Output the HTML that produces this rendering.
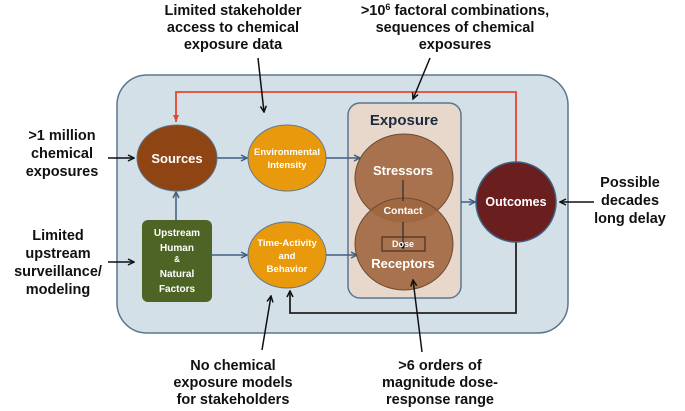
<!DOCTYPE html>
<html><head><meta charset="utf-8"><style>
html,body{margin:0;padding:0;background:#fff}
svg{display:block}
.t{font-family:"Liberation Sans Narrow","Liberation Sans",sans-serif;font-weight:bold;font-size:14.5px;fill:#111;text-anchor:middle}
.w{font-family:"Liberation Sans",sans-serif;font-weight:bold;fill:#fff;text-anchor:middle}
</style></head><body>
<svg width="685" height="411" viewBox="0 0 685 411" xmlns="http://www.w3.org/2000/svg">
<defs>
<marker id="ab" markerWidth="8" markerHeight="8" refX="7" refY="4" orient="auto" markerUnits="userSpaceOnUse"><path d="M1,1 L7,4 L1,7" fill="none" stroke="#111" stroke-width="1.5"/></marker>
<marker id="ag" markerWidth="8" markerHeight="8" refX="7" refY="4" orient="auto" markerUnits="userSpaceOnUse"><path d="M1,1 L7,4 L1,7" fill="none" stroke="#3f5f82" stroke-width="1.5"/></marker>
<marker id="ar" markerWidth="8" markerHeight="8" refX="7" refY="4" orient="auto" markerUnits="userSpaceOnUse"><path d="M0,1 L7,4 L0,7 z" fill="#e8442a"/></marker>
</defs>
<rect x="117" y="75" width="451" height="258" rx="30" fill="#d3e0e8" stroke="#5c7690" stroke-width="1.5"/>
<rect x="348" y="103" width="113" height="195" rx="12" fill="#e8d8cb" stroke="#5c7690" stroke-width="1.5"/>
<text x="404" y="125" font-family="Liberation Sans,sans-serif" font-weight="bold" font-size="15" fill="#1c2a40" text-anchor="middle">Exposure</text>
<path d="M516,162 V92 H176 V122" fill="none" stroke="#e8442a" stroke-width="1.8" marker-end="url(#ar)"/>
<path d="M516,242 V313 H290 V291" fill="none" stroke="#222" stroke-width="1.8" marker-end="url(#ab)"/>
<g stroke="#3f5f82" stroke-width="1.5" fill="none" marker-end="url(#ag)">
<path d="M217,158 H247"/>
<path d="M326,158 H360"/>
<path d="M176,220 V192"/>
<path d="M212,255 H247"/>
<path d="M326,255 H357"/>
<path d="M461,202 H475"/>
</g>
<ellipse cx="404" cy="178" rx="49" ry="44" fill="#a0673f" fill-opacity="0.9" stroke="#6b4a33" stroke-width="1"/>
<ellipse cx="404" cy="244" rx="49" ry="46" fill="#a0673f" fill-opacity="0.9" stroke="#6b4a33" stroke-width="1"/>
<path d="M403,180 V201 M403,222 V248" stroke="#333" stroke-width="1.3" marker-end="url(#ab)"/>
<rect x="382" y="237" width="43" height="14" fill="none" stroke="#4a3020" stroke-width="1.2"/>
<ellipse cx="177" cy="158" rx="40" ry="33" fill="#8e4413" stroke="#5c7690"/>
<ellipse cx="287" cy="158" rx="39" ry="33" fill="#e89a0c" stroke="#5c7690"/>
<ellipse cx="287" cy="255" rx="39" ry="33" fill="#e89a0c" stroke="#5c7690"/>
<circle cx="516" cy="202" r="40" fill="#6a1e1e" stroke="#3f5f82" stroke-width="1.5"/>
<rect x="142" y="220" width="70" height="82" rx="6" fill="#4d6424"/>
<text class="w" x="177" y="163" font-size="13">Sources</text>
<text class="w" x="287" y="155" font-size="9.5">Environmental</text>
<text class="w" x="287" y="168" font-size="9.5">Intensity</text>
<text class="w" x="287" y="246" font-size="9.5">Time-Activity</text>
<text class="w" x="287" y="259" font-size="9.5">and</text>
<text class="w" x="287" y="272" font-size="9.5">Behavior</text>
<text class="w" x="403" y="175" font-size="13">Stressors</text>
<text class="w" x="403" y="214" font-size="10.5">Contact</text>
<text class="w" x="403" y="247" font-size="9">Dose</text>
<text class="w" x="403" y="268" font-size="13">Receptors</text>
<text class="w" x="516" y="206" font-size="12.5">Outcomes</text>
<text class="w" x="177" y="236" font-size="10">Upstream</text>
<text class="w" x="177" y="251" font-size="10">Human</text>
<text class="w" x="177" y="262" font-size="8">&amp;</text>
<text class="w" x="177" y="277" font-size="10">Natural</text>
<text class="w" x="177" y="292" font-size="10">Factors</text>
<text class="t" x="233" y="15">Limited stakeholder</text>
<text class="t" x="233" y="32">access to chemical</text>
<text class="t" x="233" y="49">exposure data</text>
<path d="M258,58 L264,112" stroke="#111" stroke-width="1.5" marker-end="url(#ab)"/>
<text class="t" x="455" y="15">&gt;10<tspan font-size="9" dy="-5">6</tspan><tspan dy="5"> factoral combinations,</tspan></text>
<text class="t" x="455" y="32">sequences of chemical</text>
<text class="t" x="455" y="49">exposures</text>
<path d="M430,58 L413,99" stroke="#111" stroke-width="1.5" marker-end="url(#ab)"/>
<text class="t" x="62" y="140">&gt;1 million</text>
<text class="t" x="62" y="158">chemical</text>
<text class="t" x="62" y="176">exposures</text>
<path d="M108,158 H134" stroke="#111" stroke-width="1.5" marker-end="url(#ab)"/>
<text class="t" x="58" y="240">Limited</text>
<text class="t" x="58" y="258">upstream</text>
<text class="t" x="58" y="276">surveillance/</text>
<text class="t" x="58" y="294">modeling</text>
<path d="M108,262 H134" stroke="#111" stroke-width="1.5" marker-end="url(#ab)"/>
<text class="t" x="630" y="187">Possible</text>
<text class="t" x="630" y="205">decades</text>
<text class="t" x="630" y="223">long delay</text>
<path d="M594,202 H560" stroke="#111" stroke-width="1.5" marker-end="url(#ab)"/>
<text class="t" x="233" y="370">No chemical</text>
<text class="t" x="233" y="387">exposure models</text>
<text class="t" x="233" y="404">for stakeholders</text>
<path d="M262,350 L271,296" stroke="#111" stroke-width="1.5" marker-end="url(#ab)"/>
<text class="t" x="440" y="370">&gt;6 orders of</text>
<text class="t" x="440" y="387">magnitude dose-</text>
<text class="t" x="440" y="404">response range</text>
<path d="M422,352 L413,280" stroke="#111" stroke-width="1.5" marker-end="url(#ab)"/>
</svg>
</body></html>
